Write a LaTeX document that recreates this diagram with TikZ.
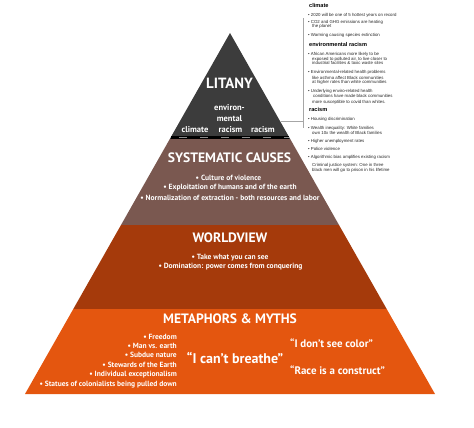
\documentclass[tikz,border=0pt]{standalone}
\usepackage{fontspec}
\setmainfont{PT Sans}
\newfontfamily\notefont{Liberation Sans}
\begin{document}
\begin{tikzpicture}[x=1pt,y=-1pt,
  title/.style={text=white,font=\bfseries\fontsize{13.6}{14}\selectfont,inner sep=0pt},
  pitem/.style={text=white,font=\bfseries\fontsize{7.5}{8}\selectfont,inner sep=0pt},
  lit/.style={text=white,font=\bfseries\fontsize{8.5}{9}\selectfont,inner sep=0pt},
  quote/.style={text=white,font=\bfseries\fontsize{10.9}{11}\selectfont,inner sep=0pt},
  nhead/.style={anchor=mid west,inner sep=0pt,font=\notefont\bfseries\fontsize{5.6}{6}\selectfont},
  nline/.style={anchor=mid west,inner sep=0pt,font=\notefont\fontsize{4.35}{5}\selectfont,text=black!85},
  link/.style={draw=black!35,line width=0.8pt}]
\useasboundingbox (0,0) rectangle (474,428);
\definecolor{litany}{HTML}{3C3C3C}
\definecolor{syst}{HTML}{7A5850}
\definecolor{world}{HTML}{A53A0B}
\definecolor{meta}{HTML}{E4560F}
% pyramid layers
\fill[litany] (230,33) -- (290.2,139) -- (169.8,139) -- cycle;
\fill[syst] (169.8,139) -- (290.2,139) -- (339,225) -- (121,225) -- cycle;
\fill[world] (121,225) -- (339,225) -- (386.7,309) -- (73.3,309) -- cycle;
\fill[meta] (73.3,309) -- (386.7,309) -- (435,394) -- (25,394) -- cycle;
% dashed strip at bottom of litany
\draw[black,line width=3pt] (171.1,137.5) -- (288.9,137.5);
\draw[black!45,line width=1.6pt,dash pattern=on 8pt off 13pt,dash phase=-8pt] (171.1,137.5) -- (288.9,137.5);
% connector lines to notes
\coordinate (litR) at (280.5,121);
\coordinate (brJ) at (303,121);
\coordinate (brTop) at (303,18);
\coordinate (brBot) at (303,128);
\draw[link] (litR) -- (brJ);
\draw[link] (brTop) -- (brBot);
% litany
\node[title,font=\bfseries\fontsize{14.8}{15}\selectfont] (tLit) at (229.5,83) {LITANY};
\node[lit] (l1) at (229.5,108) {environ-};
\node[lit] (l2) at (229.5,119) {mental};
\node[lit] (l3) at (230.5,130) {racism};
\node[lit] (l4) at (195,130) {climate};
\node[lit] (l5) at (263,130) {racism};
% systematic causes
\node[title] (tSys) at (229.5,158) {SYSTEMATIC CAUSES};
\node[pitem] (s1) at (228.5,178) {• Culture of violence};
\node[pitem] (s2) at (230,188) {• Exploitation of humans and of the earth};
\node[pitem] (s3) at (230,198) {• Normalization of extraction - both resources and labor};
% worldview
\node[title] (tWor) at (230,238) {WORLDVIEW};
\node[pitem] (w1) at (230,258) {• Take what you can see};
\node[pitem] (w2) at (230.5,267) {• Domination: power comes from conquering};
% metaphors
\node[title] (tMet) at (230,319) {METAPHORS \& MYTHS};
\node[pitem,anchor=mid east] (m1) at (177,337) {• Freedom};
\node[pitem,anchor=mid east] (m2) at (177,346) {• Man vs. earth};
\node[pitem,anchor=mid east] (m3) at (177,355) {• Subdue nature};
\node[pitem,anchor=mid east] (m4) at (177,365) {• Stewards of the Earth};
\node[pitem,anchor=mid east] (m5) at (177,374) {• Individual exceptionalism};
\node[pitem,anchor=mid east] (m6) at (177,384) {• Statues of colonialists being pulled down};
\node[quote,font=\bfseries\fontsize{14}{15}\selectfont] (q1) at (235,358) {“I can’t breathe”};
\node[quote,anchor=mid west] (q2) at (290,345) {“I don’t see color”};
\node[quote,anchor=mid west] (q3) at (290,372) {“Race is a construct”};
% notes
\node[nhead] (h1) at (309,5) {climate};
\node[nline] (n1) at (308,14) {• 2020 will be one of 5 hottest years on record};
\node[nline] (n2) at (308,21) {• CO2 and GHG emissions are heating};
\node[nline] (n3) at (312,25.5) {the planet};
\node[nline] (n4) at (308,34) {• Warming causing species extinction};
\node[nhead] (h2) at (309,44) {environmental racism};
\node[nline] (n5) at (308,53) {• African Americans more likely to be};
\node[nline] (n6) at (312,57.5) {exposed to polluted air, to live closer to};
\node[nline] (n7) at (312,62.5) {industrial facilities \& toxic waste sites};
\node[nline] (n8) at (308,71.5) {• Environmental-related health problems};
\node[nline] (n9) at (312,76.5) {like asthma affect Black communities};
\node[nline] (n10) at (312,81) {at higher rates than white communities};
\node[nline] (n11) at (308,90) {• Underlying enviro-related health};
\node[nline] (n12) at (313,95) {conditions have made black communities};
\node[nline] (n13) at (312,100.5) {more susceptible to covid than whites.};
\node[nhead] (h3) at (309,109) {racism};
\node[nline] (n14) at (308,118) {• Housing discrimination};
\node[nline] (n15) at (308,127) {• Wealth inequality: White families};
\node[nline] (n16) at (312,132) {own 10x the wealth of Black families};
\node[nline] (n17) at (308,140) {• Higher unemployment rates};
\node[nline] (n18) at (308,148) {• Police violence};
\node[nline] (n19) at (308,156) {• Algorithmic bias amplifies existing racism};
\node[nline] (n20) at (312,164) {Criminal justice system: One in three};
\node[nline] (n21) at (312,169) {black men will go to prison in his lifetime};
\end{tikzpicture}
\end{document}
